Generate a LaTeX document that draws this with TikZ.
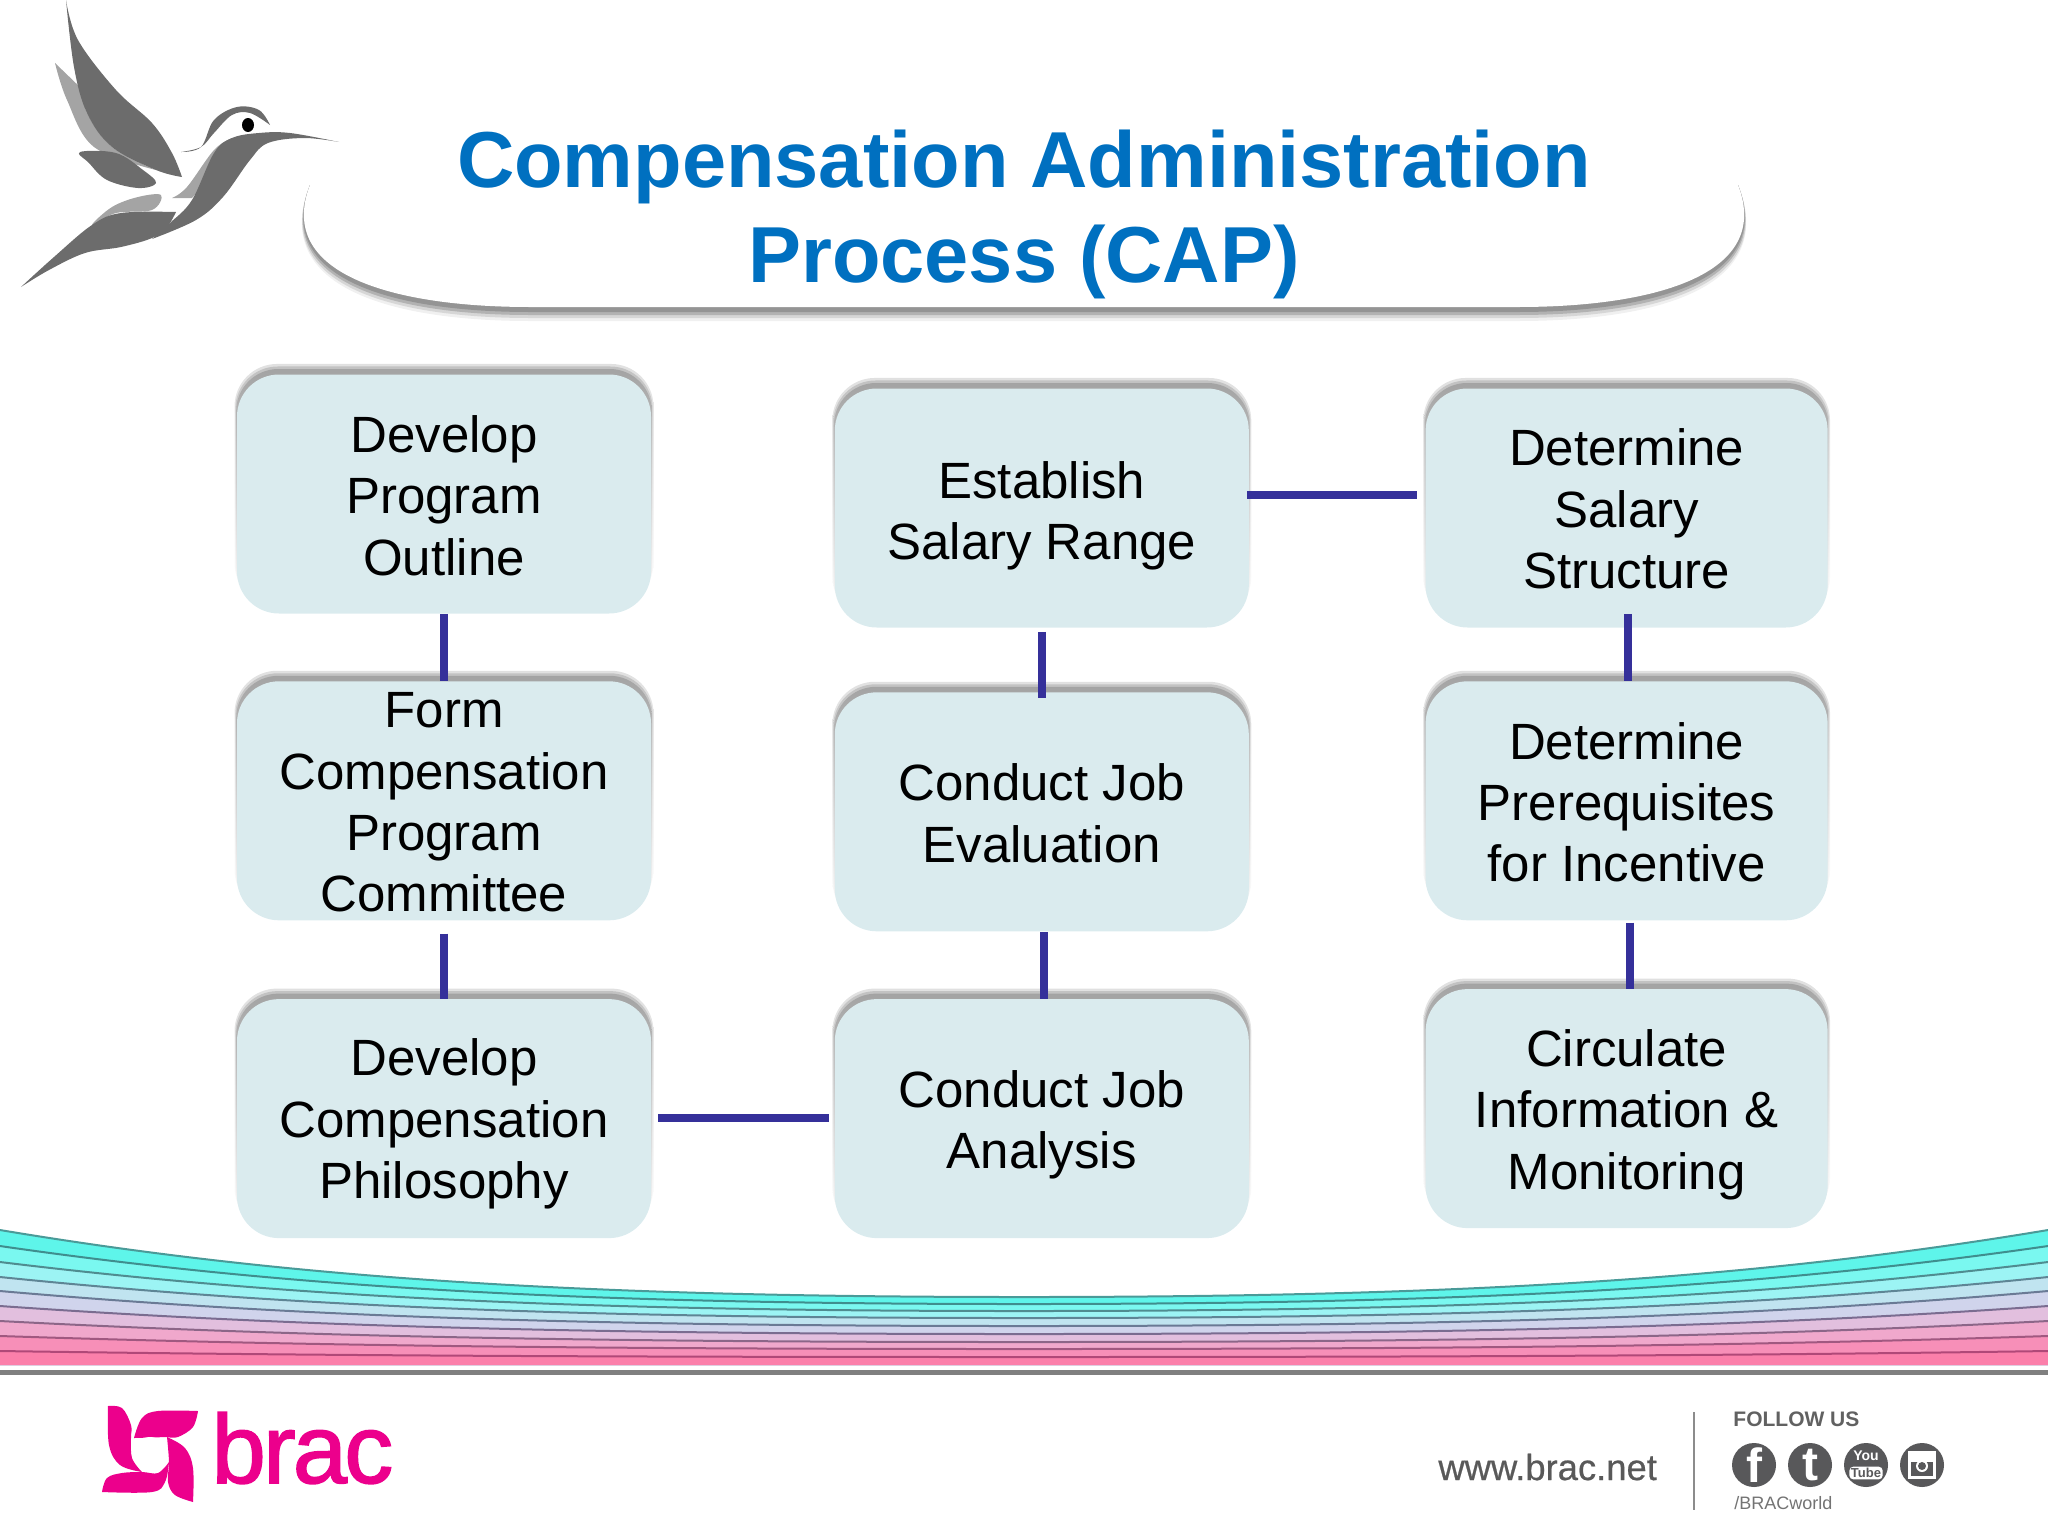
\documentclass[tikz,border=0pt]{standalone}
\usepackage{fontspec}
\setmainfont{Liberation Sans}
\usetikzlibrary{positioning,shadows}
\definecolor{boxfill}{HTML}{DAEBEE}
\definecolor{linkblue}{HTML}{35309A}
\definecolor{titleblue}{HTML}{0070C0}
\definecolor{bracpink}{HTML}{EC008C}
\definecolor{birddark}{HTML}{6C6C6C}
\definecolor{birdlight}{HTML}{A4A4A4}
\definecolor{icongray}{HTML}{58585A}
\tikzset{
	capbox/.style={fill=boxfill, rounded corners=21pt, minimum width=207pt, minimum height=119.5pt, inner sep=0pt, align=center, font=\fontsize{25.5}{30.7}\selectfont,
		general shadow={shadow yshift=4.5pt, shadow scale=1.012, top color=black!12, bottom color=white},
		general shadow={shadow yshift=3.5pt, shadow scale=1.008, top color=black!24, bottom color=white},
		general shadow={shadow yshift=2.5pt, shadow scale=1.004, top color=black!36, bottom color=white}},
	capnarrow/.style={capbox, minimum width=201pt},
	link/.style={draw=linkblue, line width=4pt},
	socialicon/.style={circle, fill=icongray, minimum size=22pt, inner sep=0pt, text=white}
}
% title band and footer waves
\newcommand{\capeshape}[3]{\fill[black!#3] (310,185) .. controls ({275-#1},{275+#2}) and (395,{307+#2}) .. (530,{307+#2}) -- (1518,{307+#2}) .. controls (1653,{307+#2}) and ({1773+#1},{275+#2}) .. (1738,185) -- cycle;}
\newcommand{\waveband}[4]{%
	\definecolor{bandfill}{HTML}{#3}\definecolor{bandline}{HTML}{#4}%
	\fill[bandfill] (0,#1) .. controls (300,{#1+0.75*(#2-#1)}) and (600,#2) .. (1024,#2) .. controls (1448,#2) and (1748,{#1+0.75*(#2-#1)}) .. (2048,#1) -- (2048,1365) -- (0,1365) -- cycle;
	\draw[bandline, line width=1pt] (0,#1) .. controls (300,{#1+0.75*(#2-#1)}) and (600,#2) .. (1024,#2) .. controls (1448,#2) and (1748,{#1+0.75*(#2-#1)}) .. (2048,#1);}
% pushes the lines of a box down a little
\newcommand{\lift}[1]{\rule{0pt}{\dimexpr18.6pt+#1\relax}}
\begin{document}
\begin{tikzpicture}[x=0.5pt, y=-0.5pt]
	\useasboundingbox (0,0) rectangle (2048,1536);

	% bird
	\fill[birdlight] plot[smooth, tension=.6] coordinates {(55,63) (67,100) (94,147) (156,170)} -- plot[smooth, tension=.6] coordinates {(156,170) (112,147) (87,113) (83,90)} -- cycle;
	\fill[birddark] plot[smooth, tension=.6] coordinates {(66,0) (78,40) (116,90) (152,123) (172,153) (182,177)} -- plot[smooth, tension=.6] coordinates {(182,177) (156,170) (112,147) (87,113) (74,67) (66,0)} -- cycle;
	\fill[birddark] plot[smooth cycle, tension=.6] coordinates {(80,152) (116,153) (143,170) (156,183) (138,188) (107,180) (89,163)};
	\fill[birddark] plot[smooth, tension=.6] coordinates {(181,152) (201,147) (214,120) (237,107) (259,110) (270,125)} -- plot[smooth, tension=.6] coordinates {(270,125) (250,113) (232,115) (214,133) (201,147) (181,152)} -- cycle;
	\fill[black] (248,125) ellipse (6 and 7);
	\fill[birdlight] plot[smooth, tension=.6] coordinates {(172,198) (187,187) (214,150) (232,138)} -- (240,145) -- (192,198) -- cycle;
	\fill[birddark] plot[smooth, tension=.6] coordinates {(339,142) (290,133) (259,133) (232,138) (214,153) (192,200) (170,223) (152,239)} -- plot[smooth, tension=.6] coordinates {(152,239) (196,220) (223,197) (250,160) (268,143) (304,138) (339,142)} -- cycle;
	\fill[birdlight] plot[smooth cycle, tension=.6] coordinates {(92,225) (112,207) (138,197) (161,195) (152,210) (116,213)};
	\fill[birddark] plot[smooth, tension=.6] coordinates {(21,287) (54,257) (92,225) (121,213) (176,212)} -- plot[smooth, tension=.6] coordinates {(176,212) (167,227) (152,238) (121,247) (85,253) (49,270) (21,287)} -- cycle;

	% title
	\capeshape{7}{14}{6}
	\capeshape{6}{11}{16}
	\capeshape{4}{8}{30}
	\capeshape{2}{5}{42}
	\capeshape{0}{0}{0}
	\node[font=\fontsize{39.7}{47.8}\selectfont\bfseries, text=titleblue, align=center] (title) at (1024,214.5) {Compensation Administration\\Process (CAP)};

	% boxes
	\node[capbox] (outline) at (444,494) {\lift{1.3pt}Develop\\Program\\Outline};
	\node[capbox, below=33.5pt of outline] (committee) {\lift{.6pt}Form\\Compensation\\Program\\Committee};
	\node[capbox, below=39pt of committee] (philosophy) {\lift{5.2pt}Develop\\Compensation\\Philosophy};
	\node[capbox, right=91.5pt of philosophy] (analysis) {\lift{6pt}Conduct Job\\Analysis};
	\node[capbox, above=33.5pt of analysis] (evaluation) {\lift{1.3pt}Conduct Job\\Evaluation};
	\node[capbox, above=32pt of evaluation] (range) {\lift{7.8pt}Establish\\Salary Range};
	\node[capnarrow, right=88pt of range] (structure) {\lift{1pt}Determine\\Salary\\Structure};
	\node[capnarrow, below=26.5pt of structure] (prerequisites) {\lift{1.3pt}Determine\\Prerequisites\\for Incentive};
	\node[capnarrow, below=34pt of prerequisites] (circulate) {\lift{6pt}Circulate\\Information \&\\Monitoring};

	% connectors
	\draw[link] (outline) -- (committee.north);
	\draw[link, shorten <=6.5pt] (committee.south) -- (philosophy.north);
	\draw[link, shorten <=2pt, shorten >=-3pt] (range.south) -- (evaluation.north);
	\draw[link] ([xshift=1pt]analysis.north) -- ([xshift=1pt]evaluation.south);
	\draw[link, shorten <=-1pt, shorten >=4pt] ([yshift=6.7pt]range.east) -- ([yshift=6.7pt]structure.west);
	\draw[link, shorten <=-7pt] ([xshift=.75pt]structure.south) -- ([xshift=.75pt]prerequisites.north);
	\draw[link, shorten <=1pt] ([xshift=1.5pt]prerequisites.south) -- ([xshift=1.5pt]circulate.north);
	\draw[link, shorten <=3.5pt, shorten >=2.5pt] ([yshift=.5pt]philosophy.east) -- ([yshift=.5pt]analysis.west);

	% waves
	\waveband{1230}{1297}{5EF5EA}{4A9A98}
	\waveband{1246}{1304}{7AF8F0}{3F8E8E}
	\waveband{1262}{1311}{9CF4F4}{4F8C90}
	\waveband{1277}{1318}{C0E4F0}{5E8595}
	\waveband{1291}{1326}{D0D4EC}{6A7A95}
	\waveband{1306}{1334}{E2BFDE}{7A6C90}
	\waveband{1321}{1342}{F0A8CC}{8C6688}
	\waveband{1336}{1349}{F78FB8}{A05880}
	\waveband{1351}{1357}{FB7FAA}{B04878}
	\fill[black!50] (0,1370) rectangle (2048,1375);

	% logo
	\fill[bracpink] plot[smooth, tension=.6] coordinates {(108,1406) (122,1408) (131,1425) (131,1438) (132,1458) (142,1472)} -- plot[smooth, tension=.6] coordinates {(142,1472) (120,1465) (109,1445) (108,1406)} -- cycle;
	\fill[bracpink] (198,1411) -- plot[smooth, tension=.6] coordinates {(198,1411) (158,1411) (142,1418) (134,1438)} -- (167,1437) -- plot[smooth, tension=.6] coordinates {(167,1437) (178,1437) (193,1427) (198,1411)} -- cycle;
	\fill[bracpink] plot[smooth, tension=.6] coordinates {(167,1437) (185,1448) (193,1468) (193,1502)} -- plot[smooth, tension=.6] coordinates {(193,1502) (175,1495) (168,1482) (169,1462) (167,1437)} -- cycle;
	\fill[bracpink] plot[smooth, tension=.6] coordinates {(102,1492) (107,1478) (122,1473) (142,1472) (158,1473) (169,1462)} -- plot[smooth, tension=.6] coordinates {(169,1462) (165,1482) (152,1492) (102,1492)} -- cycle;
	\fill[white] (150,1453) circle (16);
	\node[anchor=base west, inner sep=0pt, text=bracpink, font=\fontsize{49}{49}\selectfont\addfontfeature{LetterSpace=-3,FakeBold=1.5}] (brac) at (211,1483) {brac};

	% footer right
	\node[anchor=west, inner sep=0pt, text=black!65, font=\fontsize{18.2}{18}\selectfont\addfontfeature{FakeBold=.6}] (web) at (1438,1467) {www.brac.net};
	\draw[black!45, line width=1pt] (1694,1412) -- (1694,1510);
	\node[anchor=west, inner sep=0pt, text=black!62, font=\fontsize{10.5}{11}\selectfont\bfseries] (follow) at (1733,1419) {FOLLOW US};
	\node[socialicon, font=\fontsize{24}{24}\selectfont\bfseries] (fb) at (1754,1465) {f};
	\node[socialicon, font=\fontsize{24}{24}\selectfont\bfseries] (tw) at (1810,1465) {t};
	\node[socialicon] (yt) at (1866,1465) {};
	\node[inner sep=0pt, text=white, font=\fontsize{7}{7}\selectfont\bfseries] (ytyou) at (1866,1456) {You};
	\node[fill=white, rounded corners=2pt, inner sep=.8pt, text=icongray, font=\fontsize{6.5}{7}\selectfont\bfseries] (yttube) at (1866,1473) {Tube};
	\node[socialicon] (ig) at (1922,1465) {};
	\fill[white] (1908,1451) rectangle (1936,1479);
	\fill[icongray] (1911,1462) rectangle (1933,1476);
	\fill[white] (1922,1466) circle (6);
	\fill[icongray] (1922,1466) circle (4);
	\node[anchor=west, inner sep=0pt, text=black!55, font=\fontsize{9}{10}\selectfont] (world) at (1734,1503) {/BRACworld};
\end{tikzpicture}
\end{document}
